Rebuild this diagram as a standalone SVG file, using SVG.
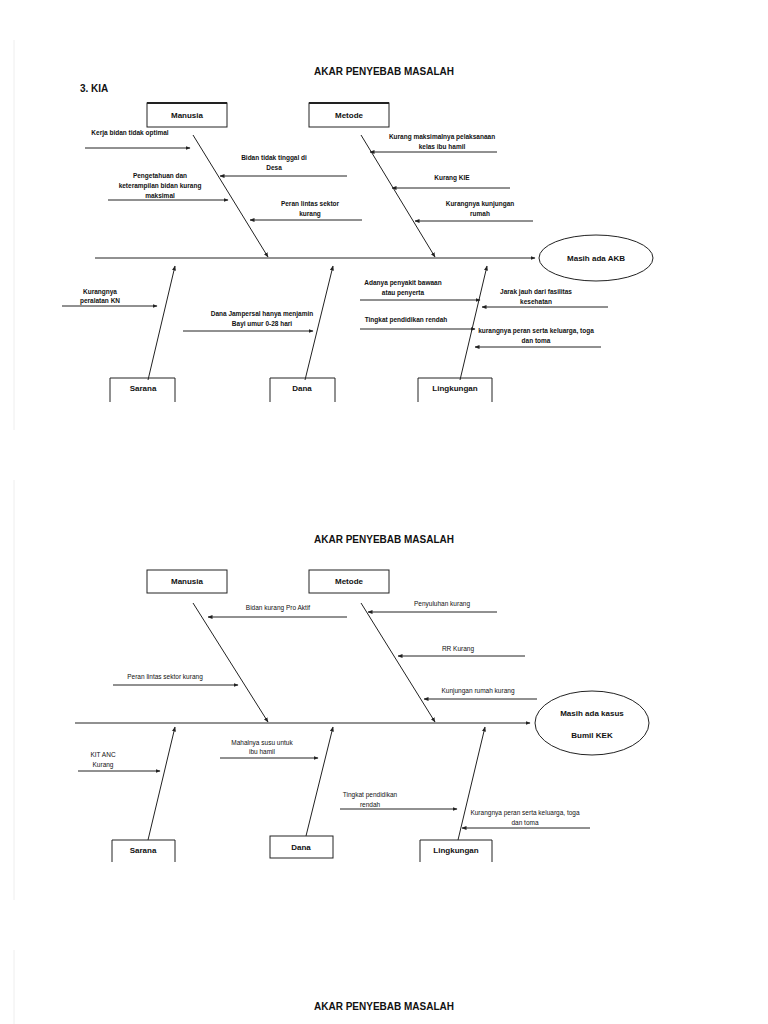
<svg xmlns="http://www.w3.org/2000/svg" width="768" height="1024" viewBox="0 0 768 1024">
<style>
text{font-family:"Liberation Sans",Arial,sans-serif;fill:#111}
.t{font-size:10px;font-weight:bold;text-anchor:middle}
.b{font-size:8px;font-weight:bold;text-anchor:middle}
.l{font-size:6.5px;text-anchor:middle}
.lb{font-size:6.5px;font-weight:bold;text-anchor:middle}
.ln{stroke:#222;stroke-width:1;fill:none}
.ln2{stroke:#222;stroke-width:1;fill:none;marker-end:url(#a)}
.box{fill:#fff;stroke:#222;stroke-width:1}
.pg{stroke:#eee;stroke-width:1}
</style>
<defs><marker id="a" viewBox="0 0 10 10" refX="9" refY="5" markerWidth="5" markerHeight="5" orient="auto"><path d="M0,1 L10,5 L0,9 z" fill="#222"/></marker></defs>
<rect width="768" height="1024" fill="#fff"/>
<line class="pg" x1="14" y1="40" x2="14" y2="430"/>
<line class="pg" x1="14" y1="480" x2="14" y2="900"/>
<line class="pg" x1="14" y1="950" x2="14" y2="1024"/>
<text class="t" x="384" y="75">AKAR PENYEBAB MASALAH</text>
<text x="80" y="92" style="font-size:10px;font-weight:bold">3. KIA</text>
<g id="connectors1">
<line class="ln2" x1="95" y1="258" x2="535" y2="258"/>
<line class="ln2" x1="193" y1="135" x2="268" y2="257"/>
<line class="ln2" x1="361" y1="135" x2="435" y2="257"/>
<line class="ln2" x1="148" y1="380" x2="175" y2="266"/>
<line class="ln2" x1="305" y1="380" x2="333" y2="266"/>
<line class="ln2" x1="460" y1="380" x2="487" y2="266"/>
<line class="ln2" x1="85" y1="148" x2="190" y2="148"/>
<line class="ln2" x1="347" y1="176" x2="220" y2="176"/>
<line class="ln2" x1="108" y1="200" x2="228" y2="200"/>
<line class="ln2" x1="362" y1="220" x2="250" y2="220"/>
<line class="ln2" x1="497" y1="152" x2="370" y2="152"/>
<line class="ln2" x1="510" y1="188" x2="392" y2="188"/>
<line class="ln2" x1="533" y1="221" x2="415" y2="221"/>
<line class="ln2" x1="62" y1="306" x2="157" y2="306"/>
<line class="ln2" x1="183" y1="331" x2="313" y2="331"/>
<line class="ln2" x1="360" y1="300" x2="480" y2="300"/>
<line class="ln2" x1="608" y1="307" x2="482" y2="307"/>
<line class="ln2" x1="360" y1="329" x2="475" y2="329"/>
<line class="ln2" x1="601" y1="347" x2="475" y2="347"/>
</g>
<g id="labels1">
<text class="lb" x="130" y="135">Kerja bidan tidak optimal</text>
<text class="lb" x="274" y="160">Bidan tidak tinggal di</text><text class="lb" x="274" y="170">Desa</text>
<text class="lb" x="160" y="178">Pengetahuan dan</text><text class="lb" x="160" y="188">keterampilan bidan kurang</text><text class="lb" x="160" y="198">maksimal</text>
<text class="lb" x="310" y="206">Peran lintas sektor</text><text class="lb" x="310" y="216">kurang</text>
<text class="lb" x="442" y="139">Kurang maksimalnya pelaksanaan</text><text class="lb" x="442" y="149">kelas ibu hamil</text>
<text class="lb" x="452" y="180">Kurang KIE</text>
<text class="lb" x="480" y="206">Kurangnya kunjungan</text><text class="lb" x="480" y="216">rumah</text>
<text class="lb" x="100" y="294">Kurangnya</text><text class="lb" x="100" y="303">peralatan KN</text>
<text class="lb" x="262" y="316">Dana Jampersal hanya menjamin</text><text class="lb" x="262" y="326">Bayi umur 0-28 hari</text>
<text class="lb" x="403" y="285">Adanya penyakit bawaan</text><text class="lb" x="403" y="295">atau penyerta</text>
<text class="lb" x="536" y="294">Jarak jauh dari fasilitas</text><text class="lb" x="536" y="304">kesehatan</text>
<text class="lb" x="406" y="322">Tingkat pendidikan rendah</text>
<text class="lb" x="536" y="333">kurangnya peran serta keluarga, toga</text><text class="lb" x="536" y="343">dan toma</text>
</g>
<g id="manusia1"><rect class="box" x="147" y="103" width="80" height="24"/><line x1="147" y1="103" x2="227" y2="103" stroke="#222" stroke-width="2"/><text class="b" x="187" y="118">Manusia</text></g>
<g id="metode1"><rect class="box" x="309" y="103" width="80" height="24"/><line x1="309" y1="103" x2="389" y2="103" stroke="#222" stroke-width="2"/><text class="b" x="349" y="118">Metode</text></g>
<g id="akb"><ellipse class="box" cx="596" cy="258" rx="57" ry="23"/><text class="b" x="596" y="261">Masih ada AKB</text></g>
<g id="sarana1"><path class="ln" d="M110,402 V378 H175 V402"/><text class="b" x="143" y="391">Sarana</text></g>
<g id="dana1"><path class="ln" d="M270,402 V378 H335 V402"/><text class="b" x="302" y="391">Dana</text></g>
<g id="lingkungan1"><path class="ln" d="M418,402 V378 H492 V402"/><text class="b" x="455" y="391">Lingkungan</text></g>

<text class="t" x="384" y="543">AKAR PENYEBAB MASALAH</text>
<g id="connectors2">
<line class="ln2" x1="75" y1="723" x2="530" y2="723"/>
<line class="ln2" x1="193" y1="603" x2="268" y2="722"/>
<line class="ln2" x1="361" y1="603" x2="435" y2="722"/>
<line class="ln2" x1="148" y1="840" x2="175" y2="727"/>
<line class="ln2" x1="305" y1="840" x2="333" y2="727"/>
<line class="ln2" x1="458" y1="840" x2="485" y2="727"/>
<line class="ln2" x1="347" y1="617" x2="208" y2="617"/>
<line class="ln2" x1="497" y1="612" x2="368" y2="612"/>
<line class="ln2" x1="525" y1="656" x2="398" y2="656"/>
<line class="ln2" x1="113" y1="685" x2="238" y2="685"/>
<line class="ln2" x1="537" y1="699" x2="424" y2="699"/>
<line class="ln2" x1="78" y1="771" x2="160" y2="771"/>
<line class="ln2" x1="220" y1="758" x2="318" y2="758"/>
<line class="ln2" x1="340" y1="809" x2="457" y2="809"/>
<line class="ln2" x1="590" y1="828" x2="462" y2="828"/>
</g>
<g id="labels2">
<text class="l" x="278" y="610">Bidan kurang Pro Aktif</text>
<text class="l" x="442" y="606">Penyuluhan kurang</text>
<text class="l" x="458" y="651">RR Kurang</text>
<text class="l" x="165" y="679">Peran lintas sektor kurang</text>
<text class="l" x="478" y="693">Kunjungan rumah kurang</text>
<text class="l" x="103" y="757">KIT ANC</text><text class="l" x="103" y="767">Kurang</text>
<text class="l" x="262" y="745">Mahalnya susu untuk</text><text class="l" x="262" y="754">ibu hamil</text>
<text class="l" x="370" y="797">Tingkat pendidikan</text><text class="l" x="370" y="807">rendah</text>
<text class="l" x="525" y="815">Kurangnya peran serta keluarga, toga</text><text class="l" x="525" y="825">dan toma</text>
</g>
<g id="manusia2"><rect class="box" x="147" y="570" width="80" height="23"/><text class="b" x="187" y="584">Manusia</text></g>
<g id="metode2"><rect class="box" x="309" y="570" width="80" height="23"/><text class="b" x="349" y="584">Metode</text></g>
<g id="kek"><ellipse class="box" cx="592" cy="723" rx="57" ry="32"/><text class="b" x="592" y="716">Masih ada kasus</text><text class="b" x="592" y="738">Bumil KEK</text></g>
<g id="sarana2"><path class="ln" d="M112,862 V840 H175 V862"/><text class="b" x="143" y="853">Sarana</text></g>
<g id="dana2"><rect class="box" x="270" y="836" width="63" height="22"/><text class="b" x="301" y="850">Dana</text></g>
<g id="lingkungan2"><path class="ln" d="M420,862 V840 H492 V862"/><text class="b" x="456" y="853">Lingkungan</text></g>

<text class="t" x="384" y="1010">AKAR PENYEBAB MASALAH</text>
</svg>
